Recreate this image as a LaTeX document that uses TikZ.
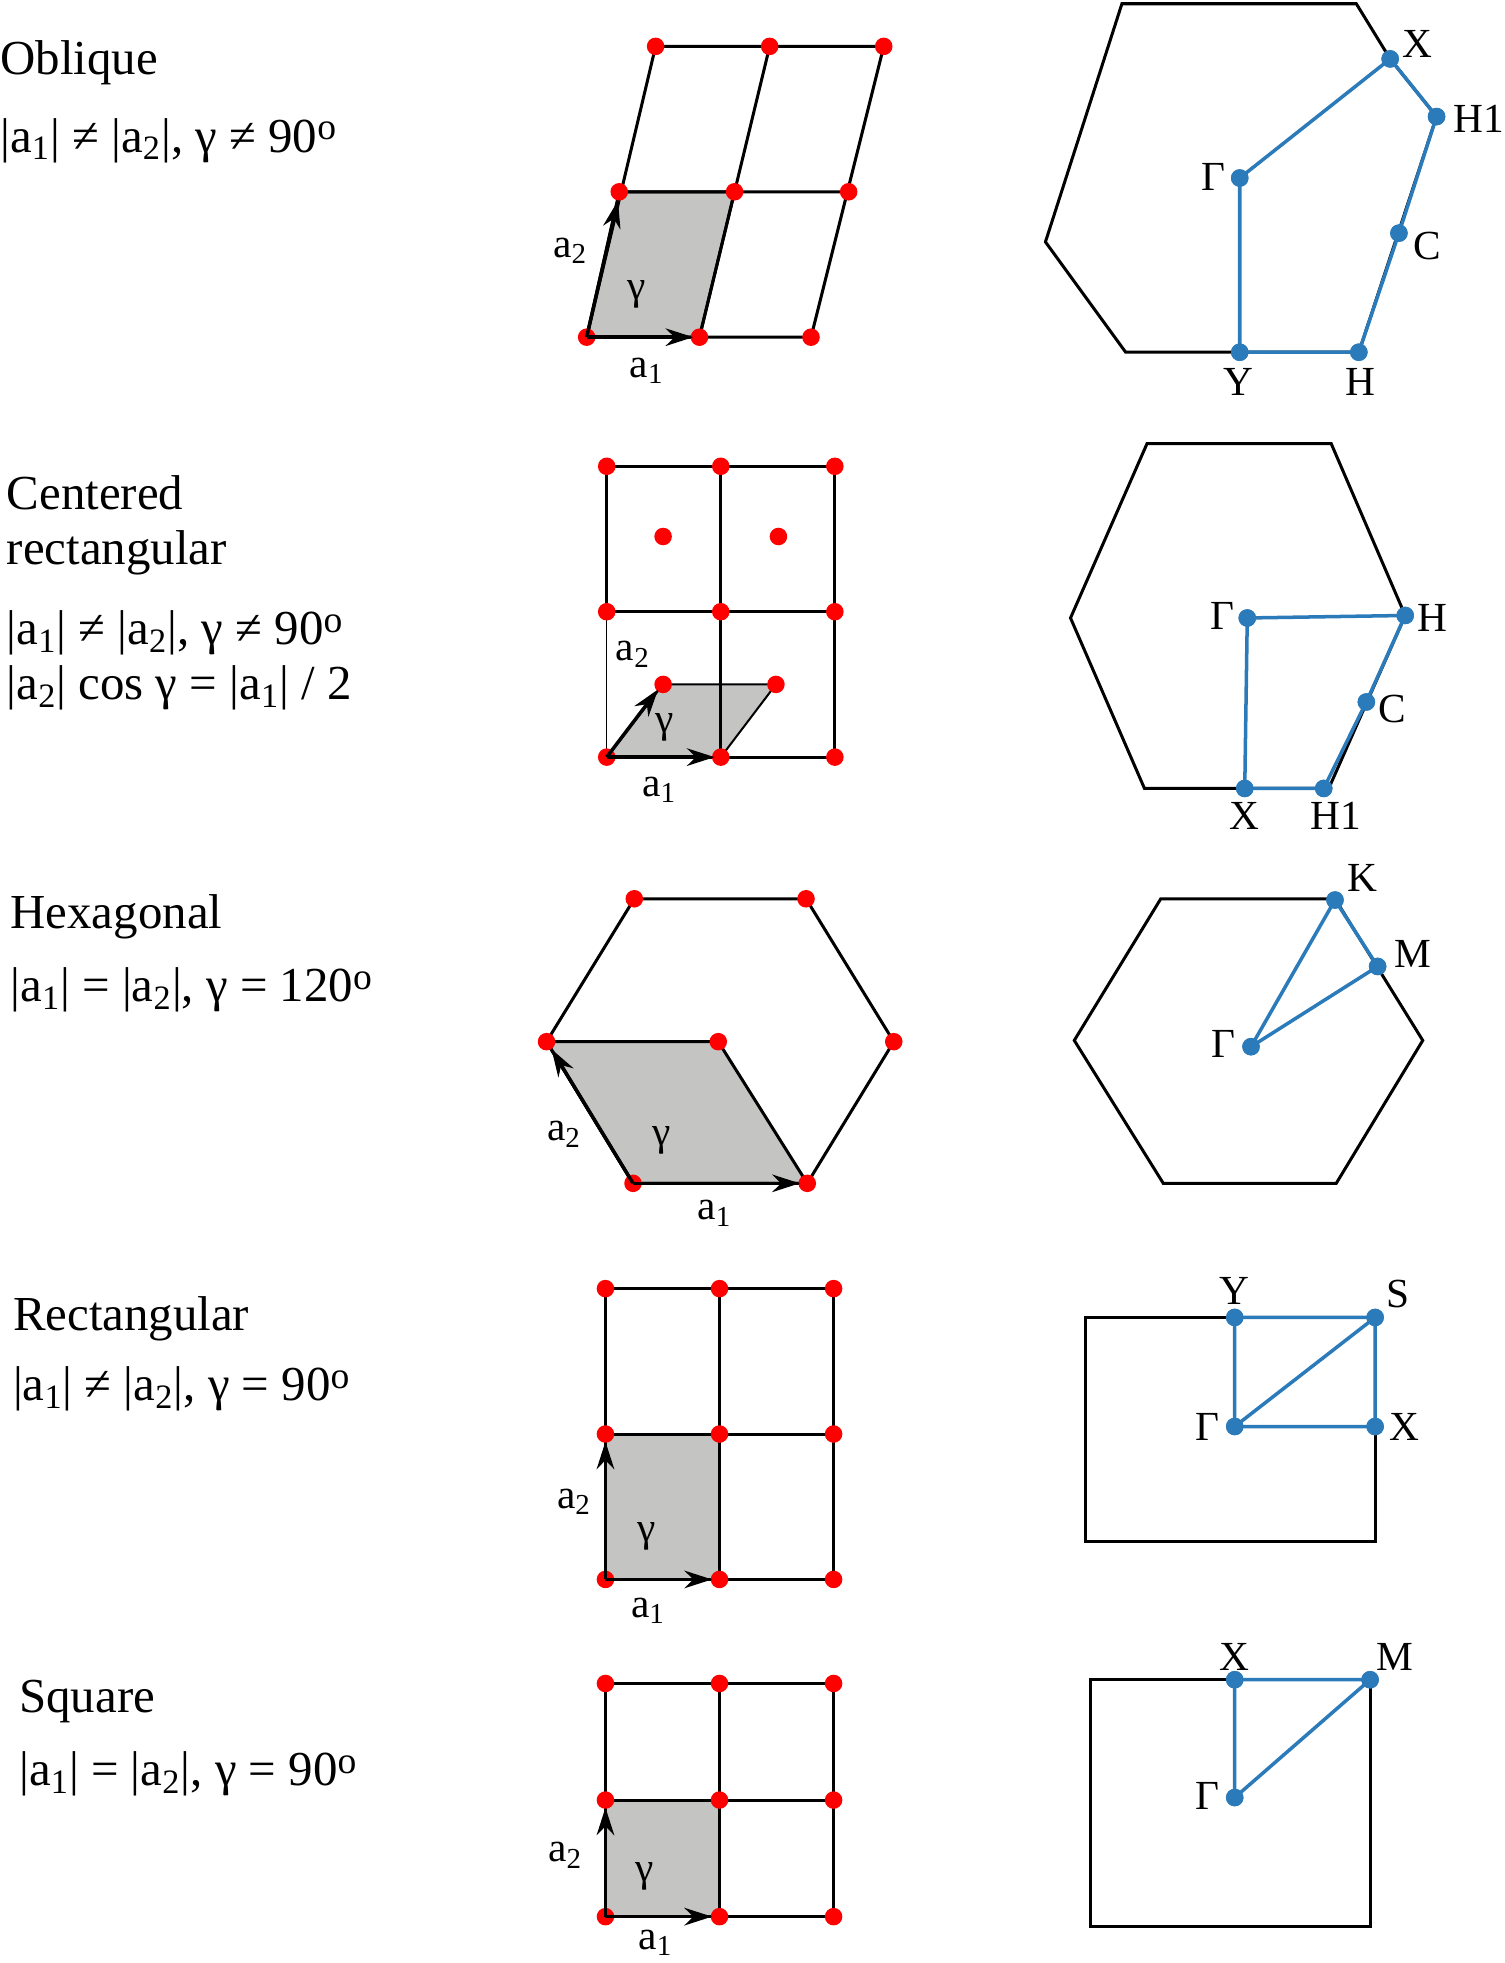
\documentclass[tikz,border=0pt]{standalone}
\usepackage{fontspec}
\setmainfont{Liberation Serif}
\usetikzlibrary{arrows.meta}
\definecolor{bz}{HTML}{2B7BBA}
\definecolor{cellgray}{HTML}{C4C5C3}
\tikzset{
 lat/.style={line width=1.2pt,black},
 rd/.style={circle,fill=red,inner sep=0pt,minimum size=7pt},
 bd/.style={circle,fill=bz,inner sep=0pt,minimum size=7pt},
 bl/.style={line width=1.4pt,bz},
 vec/.style={line width=1.4pt,-{Stealth[length=11pt,width=7pt]}},
 lbl/.style={font=\fontsize{16.5}{18}\selectfont,inner sep=0pt},
 ttl/.style={font=\fontsize{19.5}{22}\selectfont,anchor=west,inner sep=0pt},
 cell/.style={fill=cellgray,line width=1.2pt}
}
\newcommand{\sub}[1]{\textsubscript{#1}}
\newcommand{\dg}{\raisebox{0.55ex}{\fontsize{15}{15}\selectfont o}}
\begin{document}
\begin{tikzpicture}[x=0.5pt,y=-0.5pt]
\useasboundingbox (0,0) rectangle (1200,1566);
% ---------- Oblique
\node[ttl] (t1) at (0,50) {Oblique};
\node[ttl] (t1b) at (0,112) {|a\sub1| ≠ |a\sub2|, γ ≠ 90\dg};
\draw[cell] (468,269)--(558,269)--(586,153)--(494,153)--cycle;
\draw[lat] (523,37)--(705,37) (494,153)--(677,153) (468,269)--(647,269)
 (468,269)--(523,37) (558,269)--(614,37) (647,269)--(705,37);
\foreach \p [count=\i] in {(523,37),(614,37),(705,37),(494,153),(586,153),(677,153),(468,269),(558,269),(647,269)} \node[rd] (o\i) at \p {};
\draw[vec] (o7.center)--(553,269);
\draw[vec] (o7.center)--(493,160);
\node[lbl] at (455,200) {a\sub2};
\node[lbl] at (508,235) {γ};
\node[lbl] at (516,296) {a\sub1};
\draw[lat] (895,3)--(1082,3)--(1109,47)--(1146,93)--(1084,281)--(898,281)--(834,193)--cycle;
\node[bd] (g1) at (989,142) {}; \node[bd] (x1) at (1109,47) {}; \node[bd] (h11) at (1146,93) {};
\node[bd] (c1) at (1116,186) {}; \node[bd] (h1) at (1084,281) {}; \node[bd] (y1) at (989,281) {};
\draw[bl] (g1.center)--(x1.center)--(h11.center)--(c1.center)--(h1.center)--(y1.center)--(g1.center);
\foreach \n in {g1,x1,h11,c1,h1,y1} \node[bd] at (\n) {};
\node[lbl] at (1131,35) {X}; \node[lbl] at (1180,95) {H1}; \node[lbl] at (968,141) {Γ};
\node[lbl] at (1139,196) {C}; \node[lbl] at (988,305) {Y}; \node[lbl] at (1085,305) {H};
% ---------- Centered rectangular
\node[ttl] at (5,393) {Centered};
\node[ttl] at (5,441) {rectangular};
\node[ttl] at (5,505) {|a\sub1| ≠ |a\sub2|, γ ≠ 90\dg};
\node[ttl] at (5,549) {|a\sub2| cos γ = |a\sub1| / 2};
\draw[cell,line width=0.8pt] (484,604)--(575,604)--(619,546)--(529,546)--cycle;
\draw[lat] (484,372)--(666,372) (484,488)--(666,488) (484,604)--(666,604)
 (575,372)--(575,604) (666,372)--(666,604) (484,372)--(484,488);
\draw[line width=0.6pt] (484,488)--(484,604);
\foreach \p [count=\i] in {(484,372),(575,372),(666,372),(484,488),(575,488),(666,488),(484,604),(575,604),(666,604),(529,428),(621,428),(529,546),(619,546)} \node[rd] (c\i) at \p {};
\draw[vec] (c7.center)--(570,604);
\draw[vec] (c7.center)--(525,550);
\node[lbl] at (505,522) {a\sub2};
\node[lbl] at (530,580) {γ};
\node[lbl] at (526,630) {a\sub1};
\draw[lat] (915,354)--(1062,354)--(1121,491)--(1060,629)--(913,629)--(854,493)--cycle;
\node[bd] (g2) at (995,493) {}; \node[bd] (h2) at (1121,491) {}; \node[bd] (c2) at (1090,560) {};
\node[bd] (h12) at (1056,629) {}; \node[bd] (x2) at (993,629) {};
\draw[bl] (g2.center)--(h2.center)--(c2.center)--(h12.center)--(x2.center)--(g2.center);
\foreach \n in {g2,h2,c2,h12,x2} \node[bd] at (\n) {};
\node[lbl] at (975,491) {Γ}; \node[lbl] at (1143,493) {H}; \node[lbl] at (1111,566) {C};
\node[lbl] at (993,651) {X}; \node[lbl] at (1066,651) {H1};
% ---------- Hexagonal
\node[ttl] at (8,731) {Hexagonal};
\node[ttl] at (8,790) {|a\sub1| = |a\sub2|, γ = 120\dg};
\draw[cell] (436,831)--(573,831)--(644,944)--(505,944)--cycle;
\draw[lat] (506,717)--(643,717)--(713,831)--(644,944)--(505,944)--(436,831)--cycle;
\foreach \p [count=\i] in {(506,717),(643,717),(713,831),(644,944),(505,944),(436,831),(573,831)} \node[rd] (h\i) at \p {};
\draw[vec] (h5.center)--(638,944);
\draw[vec] (h5.center)--(440,837);
\node[lbl] at (450,905) {a\sub2};
\node[lbl] at (528,910) {γ};
\node[lbl] at (570,968) {a\sub1};
\draw[lat] (926,717)--(1065,717)--(1135,830)--(1066,944)--(928,944)--(857,830)--cycle;
\node[bd] (g3) at (998,835) {}; \node[bd] (k3) at (1065,718) {}; \node[bd] (m3) at (1099,771) {};
\draw[bl] (g3.center)--(k3.center)--(m3.center)--(g3.center);
\foreach \n in {g3,k3,m3} \node[bd] at (\n) {};
\node[lbl] at (1087,700) {K}; \node[lbl] at (1127,761) {M}; \node[lbl] at (976,833) {Γ};
% ---------- Rectangular
\node[ttl] at (10,1052) {Rectangular};
\node[ttl] at (10,1108) {|a\sub1| ≠ |a\sub2|, γ = 90\dg};
\draw[cell] (483,1144) rectangle (574,1260);
\draw[lat] (483,1028)--(665,1028) (483,1144)--(665,1144) (483,1260)--(665,1260)
 (483,1028)--(483,1260) (574,1028)--(574,1260) (665,1028)--(665,1260);
\foreach \p [count=\i] in {(483,1028),(574,1028),(665,1028),(483,1144),(574,1144),(665,1144),(483,1260),(574,1260),(665,1260)} \node[rd] (r\i) at \p {};
\draw[vec] (r7.center)--(568,1260);
\draw[vec] (r7.center)--(483,1150);
\node[lbl] at (458,1198) {a\sub2};
\node[lbl] at (516,1226) {γ};
\node[lbl] at (517,1285) {a\sub1};
\draw[lat] (866,1051) rectangle (1097,1230);
\node[bd] (g4) at (985,1138) {}; \node[bd] (y4) at (985,1051) {}; \node[bd] (s4) at (1097,1051) {}; \node[bd] (x4) at (1097,1138) {};
\draw[bl] (g4.center)--(y4.center)--(s4.center)--(x4.center)--(g4.center)--(s4.center);
\foreach \n in {g4,y4,s4,x4} \node[bd] at (\n) {};
\node[lbl] at (985,1030) {Y}; \node[lbl] at (1115,1032) {S}; \node[lbl] at (963,1138) {Γ}; \node[lbl] at (1120,1138) {X};
% ---------- Square
\node[ttl] at (15,1357) {Square};
\node[ttl] at (15,1415) {|a\sub1| = |a\sub2|, γ = 90\dg};
\draw[cell] (483,1436) rectangle (574,1529);
\draw[lat] (483,1343)--(665,1343) (483,1436)--(665,1436) (483,1529)--(665,1529)
 (483,1343)--(483,1529) (574,1343)--(574,1529) (665,1343)--(665,1529);
\foreach \p [count=\i] in {(483,1343),(574,1343),(665,1343),(483,1436),(574,1436),(665,1436),(483,1529),(574,1529),(665,1529)} \node[rd] (s\i) at \p {};
\draw[vec] (s7.center)--(568,1529);
\draw[vec] (s7.center)--(483,1442);
\node[lbl] at (451,1480) {a\sub2};
\node[lbl] at (514,1497) {γ};
\node[lbl] at (523,1550) {a\sub1};
\draw[lat] (870,1340) rectangle (1093,1537);
\node[bd] (g5) at (985,1434) {}; \node[bd] (x5) at (985,1340) {}; \node[bd] (m5) at (1093,1340) {};
\draw[bl] (g5.center)--(x5.center)--(m5.center)--(g5.center);
\foreach \n in {g5,x5,m5} \node[bd] at (\n) {};
\node[lbl] at (985,1322) {X}; \node[lbl] at (1113,1322) {M}; \node[lbl] at (963,1433) {Γ};
\end{tikzpicture}
\end{document}
